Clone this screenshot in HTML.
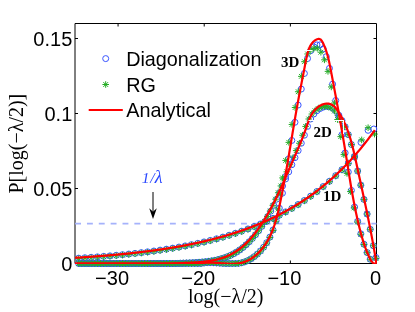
<!DOCTYPE html>
<html><head><meta charset="utf-8"><style>
html,body{margin:0;padding:0;background:#fff;width:415px;height:312px;overflow:hidden}
svg{position:absolute;left:0;top:0;display:block;will-change:transform}
</style></head><body>
<svg width="415" height="312" viewBox="0 0 415 312"><rect width="415" height="312" fill="#fff"/><path fill="none" stroke="#000" stroke-width="1" d="M75.0,23.5H376.5V263.5H75.0ZM118.07,263.5v-3M118.07,23.5v3M204.21,263.5v-3M204.21,23.5v3M290.36,263.5v-3M290.36,23.5v3M75.0,188.50h3M376.5,188.50h-3M75.0,113.50h3M376.5,113.50h-3M75.0,38.50h3M376.5,38.50h-3"/><line x1="75.1" y1="223.7" x2="376.5" y2="223.7" stroke="#a5b2fb" stroke-width="1.7" stroke-dasharray="5.9 5.95"/><g fill="none" stroke="#3a55ff" stroke-width="1"><circle cx="78.62" cy="258.16" r="3.0"/><circle cx="84.89" cy="257.76" r="3.0"/><circle cx="91.16" cy="257.33" r="3.0"/><circle cx="97.43" cy="256.86" r="3.0"/><circle cx="103.70" cy="256.37" r="3.0"/><circle cx="109.97" cy="255.85" r="3.0"/><circle cx="116.25" cy="255.28" r="3.0"/><circle cx="122.52" cy="254.68" r="3.0"/><circle cx="128.79" cy="254.04" r="3.0"/><circle cx="135.06" cy="253.36" r="3.0"/><circle cx="141.33" cy="252.63" r="3.0"/><circle cx="147.60" cy="251.84" r="3.0"/><circle cx="153.87" cy="251.01" r="3.0"/><circle cx="160.14" cy="250.12" r="3.0"/><circle cx="166.41" cy="249.17" r="3.0"/><circle cx="172.69" cy="248.15" r="3.0"/><circle cx="178.96" cy="247.06" r="3.0"/><circle cx="185.23" cy="245.90" r="3.0"/><circle cx="191.50" cy="244.66" r="3.0"/><circle cx="197.77" cy="243.34" r="3.0"/><circle cx="204.04" cy="241.92" r="3.0"/><circle cx="210.31" cy="240.41" r="3.0"/><circle cx="216.58" cy="238.80" r="3.0"/><circle cx="222.86" cy="237.08" r="3.0"/><circle cx="229.13" cy="235.24" r="3.0"/><circle cx="235.40" cy="233.27" r="3.0"/><circle cx="241.67" cy="231.17" r="3.0"/><circle cx="247.94" cy="228.93" r="3.0"/><circle cx="254.21" cy="226.53" r="3.0"/><circle cx="260.48" cy="223.98" r="3.0"/><circle cx="266.75" cy="221.24" r="3.0"/><circle cx="273.03" cy="218.33" r="3.0"/><circle cx="279.30" cy="215.21" r="3.0"/><circle cx="285.57" cy="211.88" r="3.0"/><circle cx="291.84" cy="208.32" r="3.0"/><circle cx="298.11" cy="204.52" r="3.0"/><circle cx="304.38" cy="200.47" r="3.0"/><circle cx="310.65" cy="196.13" r="3.0"/><circle cx="316.92" cy="191.50" r="3.0"/><circle cx="323.19" cy="186.56" r="3.0"/><circle cx="329.47" cy="181.28" r="3.0"/><circle cx="335.74" cy="175.64" r="3.0"/><circle cx="342.01" cy="169.61" r="3.0"/><circle cx="348.28" cy="163.18" r="3.0"/><circle cx="354.55" cy="156.31" r="3.0"/><circle cx="361.00" cy="142.40" r="3.0"/><circle cx="368.10" cy="130.30" r="3.0"/><circle cx="373.80" cy="129.00" r="3.0"/></g><path fill="none" stroke="#25ad25" stroke-width="1" d="M75.32,258.56h6.60M78.62,255.26v6.60M76.24,256.19l4.75,4.75M76.24,260.94l4.75,-4.75M81.59,258.16h6.60M84.89,254.86v6.60M82.51,255.78l4.75,4.75M82.51,260.53l4.75,-4.75M87.86,257.73h6.60M91.16,254.43v6.60M88.78,255.35l4.75,4.75M88.78,260.10l4.75,-4.75M94.13,257.26h6.60M97.43,253.96v6.60M95.06,254.89l4.75,4.75M95.06,259.64l4.75,-4.75M100.40,256.77h6.60M103.70,253.47v6.60M101.33,254.40l4.75,4.75M101.33,259.15l4.75,-4.75M106.67,256.25h6.60M109.97,252.95v6.60M107.60,253.87l4.75,4.75M107.60,258.62l4.75,-4.75M112.95,255.68h6.60M116.25,252.38v6.60M113.87,253.31l4.75,4.75M113.87,258.06l4.75,-4.75M119.22,255.08h6.60M122.52,251.78v6.60M120.14,252.71l4.75,4.75M120.14,257.46l4.75,-4.75M125.49,254.44h6.60M128.79,251.14v6.60M126.41,252.07l4.75,4.75M126.41,256.82l4.75,-4.75M131.76,253.76h6.60M135.06,250.46v6.60M132.68,251.38l4.75,4.75M132.68,256.13l4.75,-4.75M138.03,253.03h6.60M141.33,249.73v6.60M138.95,250.65l4.75,4.75M138.95,255.40l4.75,-4.75M144.30,252.24h6.60M147.60,248.94v6.60M145.23,249.87l4.75,4.75M145.23,254.62l4.75,-4.75M150.57,251.41h6.60M153.87,248.11v6.60M151.50,249.03l4.75,4.75M151.50,253.78l4.75,-4.75M156.84,250.52h6.60M160.14,247.22v6.60M157.77,248.14l4.75,4.75M157.77,252.89l4.75,-4.75M163.11,249.57h6.60M166.41,246.27v6.60M164.04,247.19l4.75,4.75M164.04,251.94l4.75,-4.75M169.39,248.55h6.60M172.69,245.25v6.60M170.31,246.17l4.75,4.75M170.31,250.92l4.75,-4.75M175.66,247.46h6.60M178.96,244.16v6.60M176.58,245.09l4.75,4.75M176.58,249.84l4.75,-4.75M181.93,246.30h6.60M185.23,243.00v6.60M182.85,243.93l4.75,4.75M182.85,248.68l4.75,-4.75M188.20,245.06h6.60M191.50,241.76v6.60M189.12,242.69l4.75,4.75M189.12,247.44l4.75,-4.75M194.47,243.74h6.60M197.77,240.44v6.60M195.39,241.36l4.75,4.75M195.39,246.11l4.75,-4.75M200.74,242.32h6.60M204.04,239.02v6.60M201.67,239.95l4.75,4.75M201.67,244.70l4.75,-4.75M207.01,240.81h6.60M210.31,237.51v6.60M207.94,238.44l4.75,4.75M207.94,243.19l4.75,-4.75M213.28,239.20h6.60M216.58,235.90v6.60M214.21,236.82l4.75,4.75M214.21,241.58l4.75,-4.75M219.56,237.48h6.60M222.86,234.18v6.60M220.48,235.10l4.75,4.75M220.48,239.85l4.75,-4.75M225.83,235.64h6.60M229.13,232.34v6.60M226.75,233.26l4.75,4.75M226.75,238.01l4.75,-4.75M232.10,233.67h6.60M235.40,230.37v6.60M233.02,231.30l4.75,4.75M233.02,236.05l4.75,-4.75M238.37,231.57h6.60M241.67,228.27v6.60M239.29,229.20l4.75,4.75M239.29,233.95l4.75,-4.75M244.64,229.33h6.60M247.94,226.03v6.60M245.56,226.95l4.75,4.75M245.56,231.71l4.75,-4.75M250.91,226.93h6.60M254.21,223.63v6.60M251.84,224.56l4.75,4.75M251.84,229.31l4.75,-4.75M257.18,224.38h6.60M260.48,221.08v6.60M258.11,222.00l4.75,4.75M258.11,226.75l4.75,-4.75M263.45,221.64h6.60M266.75,218.34v6.60M264.38,219.27l4.75,4.75M264.38,224.02l4.75,-4.75M269.73,218.73h6.60M273.03,215.43v6.60M270.65,216.35l4.75,4.75M270.65,221.10l4.75,-4.75M276.00,215.61h6.60M279.30,212.31v6.60M276.92,213.23l4.75,4.75M276.92,217.98l4.75,-4.75M282.27,212.28h6.60M285.57,208.98v6.60M283.19,209.90l4.75,4.75M283.19,214.65l4.75,-4.75M288.54,208.72h6.60M291.84,205.42v6.60M289.46,206.35l4.75,4.75M289.46,211.10l4.75,-4.75M294.81,204.92h6.60M298.11,201.62v6.60M295.73,202.55l4.75,4.75M295.73,207.30l4.75,-4.75M301.08,200.87h6.60M304.38,197.57v6.60M302.01,198.49l4.75,4.75M302.01,203.24l4.75,-4.75M307.35,196.53h6.60M310.65,193.23v6.60M308.28,194.16l4.75,4.75M308.28,198.91l4.75,-4.75M313.62,191.90h6.60M316.92,188.60v6.60M314.55,189.53l4.75,4.75M314.55,194.28l4.75,-4.75M319.89,186.96h6.60M323.19,183.66v6.60M320.82,184.58l4.75,4.75M320.82,189.34l4.75,-4.75M326.17,181.68h6.60M329.47,178.38v6.60M327.09,179.30l4.75,4.75M327.09,184.05l4.75,-4.75M332.44,176.04h6.60M335.74,172.74v6.60M333.36,173.66l4.75,4.75M333.36,178.41l4.75,-4.75M338.71,170.01h6.60M342.01,166.71v6.60M339.63,167.64l4.75,4.75M339.63,172.39l4.75,-4.75M344.98,163.58h6.60M348.28,160.28v6.60M345.90,161.20l4.75,4.75M345.90,165.96l4.75,-4.75M351.25,156.71h6.60M354.55,153.41v6.60M352.17,154.33l4.75,4.75M352.17,159.08l4.75,-4.75M358.40,139.90h6.60M361.70,136.60v6.60M359.32,137.52l4.75,4.75M359.32,142.28l4.75,-4.75M364.80,127.70h6.60M368.10,124.40v6.60M365.72,125.32l4.75,4.75M365.72,130.08l4.75,-4.75M371.20,134.10h6.60M374.50,130.80v6.60M372.12,131.72l4.75,4.75M372.12,136.48l4.75,-4.75"/><g fill="none" stroke="#3a55ff" stroke-width="1"><circle cx="79.91" cy="263.50" r="3.0"/><circle cx="83.05" cy="263.50" r="3.0"/><circle cx="86.18" cy="263.50" r="3.0"/><circle cx="89.32" cy="263.50" r="3.0"/><circle cx="92.45" cy="263.50" r="3.0"/><circle cx="95.59" cy="263.50" r="3.0"/><circle cx="98.72" cy="263.50" r="3.0"/><circle cx="101.86" cy="263.50" r="3.0"/><circle cx="104.99" cy="263.50" r="3.0"/><circle cx="108.13" cy="263.50" r="3.0"/><circle cx="111.27" cy="263.50" r="3.0"/><circle cx="114.40" cy="263.50" r="3.0"/><circle cx="117.54" cy="263.50" r="3.0"/><circle cx="120.67" cy="263.50" r="3.0"/><circle cx="123.81" cy="263.50" r="3.0"/><circle cx="126.94" cy="263.50" r="3.0"/><circle cx="130.08" cy="263.50" r="3.0"/><circle cx="133.22" cy="263.50" r="3.0"/><circle cx="136.35" cy="263.50" r="3.0"/><circle cx="139.49" cy="263.50" r="3.0"/><circle cx="142.62" cy="263.50" r="3.0"/><circle cx="145.76" cy="263.50" r="3.0"/><circle cx="148.89" cy="263.50" r="3.0"/><circle cx="152.03" cy="263.50" r="3.0"/><circle cx="155.16" cy="263.50" r="3.0"/><circle cx="158.30" cy="263.50" r="3.0"/><circle cx="161.44" cy="263.50" r="3.0"/><circle cx="164.57" cy="263.50" r="3.0"/><circle cx="167.71" cy="263.50" r="3.0"/><circle cx="170.84" cy="263.50" r="3.0"/><circle cx="173.98" cy="263.50" r="3.0"/><circle cx="177.11" cy="263.35" r="3.0"/><circle cx="180.25" cy="263.20" r="3.0"/><circle cx="183.38" cy="263.08" r="3.0"/><circle cx="186.52" cy="262.95" r="3.0"/><circle cx="189.66" cy="262.82" r="3.0"/><circle cx="192.79" cy="262.67" r="3.0"/><circle cx="195.93" cy="262.50" r="3.0"/><circle cx="199.06" cy="262.28" r="3.0"/><circle cx="202.20" cy="262.02" r="3.0"/><circle cx="205.33" cy="261.71" r="3.0"/><circle cx="208.47" cy="261.32" r="3.0"/><circle cx="211.61" cy="260.86" r="3.0"/><circle cx="214.74" cy="260.30" r="3.0"/><circle cx="217.88" cy="259.63" r="3.0"/><circle cx="221.01" cy="258.84" r="3.0"/><circle cx="224.15" cy="257.89" r="3.0"/><circle cx="227.28" cy="256.76" r="3.0"/><circle cx="230.42" cy="255.42" r="3.0"/><circle cx="233.55" cy="253.83" r="3.0"/><circle cx="236.69" cy="252.00" r="3.0"/><circle cx="239.83" cy="249.89" r="3.0"/><circle cx="242.96" cy="247.49" r="3.0"/><circle cx="246.10" cy="244.80" r="3.0"/><circle cx="249.23" cy="241.78" r="3.0"/><circle cx="252.37" cy="238.44" r="3.0"/><circle cx="255.50" cy="234.76" r="3.0"/><circle cx="258.64" cy="230.72" r="3.0"/><circle cx="261.77" cy="226.34" r="3.0"/><circle cx="264.78" cy="221.62" r="3.0"/><circle cx="267.77" cy="216.55" r="3.0"/><circle cx="270.75" cy="211.13" r="3.0"/><circle cx="273.72" cy="205.34" r="3.0"/><circle cx="276.68" cy="199.20" r="3.0"/><circle cx="279.63" cy="192.72" r="3.0"/><circle cx="282.57" cy="185.96" r="3.0"/><circle cx="285.57" cy="178.97" r="3.0"/><circle cx="288.70" cy="171.85" r="3.0"/><circle cx="291.84" cy="164.71" r="3.0"/><circle cx="294.97" cy="157.66" r="3.0"/><circle cx="298.11" cy="150.59" r="3.0"/><circle cx="301.25" cy="143.22" r="3.0"/><circle cx="304.38" cy="135.22" r="3.0"/><circle cx="307.52" cy="126.41" r="3.0"/><circle cx="310.65" cy="119.01" r="3.0"/><circle cx="313.79" cy="114.02" r="3.0"/><circle cx="316.92" cy="110.74" r="3.0"/><circle cx="320.06" cy="108.55" r="3.0"/><circle cx="323.19" cy="107.15" r="3.0"/><circle cx="326.33" cy="106.49" r="3.0"/><circle cx="329.47" cy="106.68" r="3.0"/><circle cx="332.60" cy="108.02" r="3.0"/><circle cx="335.74" cy="110.96" r="3.0"/><circle cx="338.87" cy="115.29" r="3.0"/><circle cx="342.01" cy="120.52" r="3.0"/><circle cx="345.14" cy="126.82" r="3.0"/><circle cx="348.28" cy="134.63" r="3.0"/><circle cx="351.42" cy="144.52" r="3.0"/><circle cx="354.55" cy="156.97" r="3.0"/><circle cx="357.69" cy="171.04" r="3.0"/><circle cx="360.82" cy="185.16" r="3.0"/><circle cx="363.96" cy="199.40" r="3.0"/><circle cx="367.09" cy="214.00" r="3.0"/><circle cx="370.23" cy="229.29" r="3.0"/><circle cx="373.36" cy="245.72" r="3.0"/><circle cx="376.00" cy="257.50" r="3.0"/></g><path fill="none" stroke="#25ad25" stroke-width="1" d="M76.61,263.50h6.60M79.91,260.20v6.60M77.53,261.12l4.75,4.75M77.53,265.88l4.75,-4.75M79.75,263.50h6.60M83.05,260.20v6.60M80.67,261.12l4.75,4.75M80.67,265.88l4.75,-4.75M82.88,263.50h6.60M86.18,260.20v6.60M83.81,261.12l4.75,4.75M83.81,265.88l4.75,-4.75M86.02,263.50h6.60M89.32,260.20v6.60M86.94,261.12l4.75,4.75M86.94,265.88l4.75,-4.75M89.15,263.50h6.60M92.45,260.20v6.60M90.08,261.12l4.75,4.75M90.08,265.88l4.75,-4.75M92.29,263.50h6.60M95.59,260.20v6.60M93.21,261.12l4.75,4.75M93.21,265.88l4.75,-4.75M95.42,263.50h6.60M98.72,260.20v6.60M96.35,261.12l4.75,4.75M96.35,265.88l4.75,-4.75M98.56,263.50h6.60M101.86,260.20v6.60M99.48,261.12l4.75,4.75M99.48,265.88l4.75,-4.75M101.69,263.50h6.60M104.99,260.20v6.60M102.62,261.12l4.75,4.75M102.62,265.88l4.75,-4.75M104.83,263.50h6.60M108.13,260.20v6.60M105.75,261.12l4.75,4.75M105.75,265.88l4.75,-4.75M107.97,263.50h6.60M111.27,260.20v6.60M108.89,261.12l4.75,4.75M108.89,265.88l4.75,-4.75M111.10,263.50h6.60M114.40,260.20v6.60M112.03,261.12l4.75,4.75M112.03,265.88l4.75,-4.75M114.24,263.50h6.60M117.54,260.20v6.60M115.16,261.12l4.75,4.75M115.16,265.88l4.75,-4.75M117.37,263.50h6.60M120.67,260.20v6.60M118.30,261.12l4.75,4.75M118.30,265.88l4.75,-4.75M120.51,263.50h6.60M123.81,260.20v6.60M121.43,261.12l4.75,4.75M121.43,265.88l4.75,-4.75M123.64,263.50h6.60M126.94,260.20v6.60M124.57,261.12l4.75,4.75M124.57,265.88l4.75,-4.75M126.78,263.50h6.60M130.08,260.20v6.60M127.70,261.12l4.75,4.75M127.70,265.88l4.75,-4.75M129.92,263.50h6.60M133.22,260.20v6.60M130.84,261.12l4.75,4.75M130.84,265.88l4.75,-4.75M133.05,263.50h6.60M136.35,260.20v6.60M133.97,261.12l4.75,4.75M133.97,265.88l4.75,-4.75M136.19,263.50h6.60M139.49,260.20v6.60M137.11,261.12l4.75,4.75M137.11,265.88l4.75,-4.75M139.32,263.50h6.60M142.62,260.20v6.60M140.25,261.12l4.75,4.75M140.25,265.88l4.75,-4.75M142.46,263.50h6.60M145.76,260.20v6.60M143.38,261.12l4.75,4.75M143.38,265.88l4.75,-4.75M145.59,263.50h6.60M148.89,260.20v6.60M146.52,261.12l4.75,4.75M146.52,265.88l4.75,-4.75M148.73,263.50h6.60M152.03,260.20v6.60M149.65,261.12l4.75,4.75M149.65,265.88l4.75,-4.75M151.86,263.50h6.60M155.16,260.20v6.60M152.79,261.12l4.75,4.75M152.79,265.88l4.75,-4.75M155.00,263.50h6.60M158.30,260.20v6.60M155.92,261.12l4.75,4.75M155.92,265.88l4.75,-4.75M158.14,263.50h6.60M161.44,260.20v6.60M159.06,261.12l4.75,4.75M159.06,265.88l4.75,-4.75M161.27,263.50h6.60M164.57,260.20v6.60M162.20,261.12l4.75,4.75M162.20,265.88l4.75,-4.75M164.41,263.50h6.60M167.71,260.20v6.60M165.33,261.12l4.75,4.75M165.33,265.88l4.75,-4.75M167.54,263.50h6.60M170.84,260.20v6.60M168.47,261.12l4.75,4.75M168.47,265.88l4.75,-4.75M170.68,263.50h6.60M173.98,260.20v6.60M171.60,261.12l4.75,4.75M171.60,265.88l4.75,-4.75M173.81,263.35h6.60M177.11,260.05v6.60M174.74,260.97l4.75,4.75M174.74,265.72l4.75,-4.75M176.95,263.20h6.60M180.25,259.90v6.60M177.87,260.83l4.75,4.75M177.87,265.58l4.75,-4.75M180.08,263.08h6.60M183.38,259.78v6.60M181.01,260.70l4.75,4.75M181.01,265.45l4.75,-4.75M183.22,262.95h6.60M186.52,259.65v6.60M184.14,260.57l4.75,4.75M184.14,265.33l4.75,-4.75M186.36,262.82h6.60M189.66,259.52v6.60M187.28,260.44l4.75,4.75M187.28,265.20l4.75,-4.75M189.49,262.67h6.60M192.79,259.37v6.60M190.42,260.30l4.75,4.75M190.42,265.05l4.75,-4.75M192.63,262.50h6.60M195.93,259.20v6.60M193.55,260.12l4.75,4.75M193.55,264.87l4.75,-4.75M195.76,262.28h6.60M199.06,258.98v6.60M196.69,259.91l4.75,4.75M196.69,264.66l4.75,-4.75M198.90,262.02h6.60M202.20,258.72v6.60M199.82,259.65l4.75,4.75M199.82,264.40l4.75,-4.75M202.03,261.71h6.60M205.33,258.41v6.60M202.96,259.33l4.75,4.75M202.96,264.08l4.75,-4.75M205.17,261.32h6.60M208.47,258.02v6.60M206.09,258.95l4.75,4.75M206.09,263.70l4.75,-4.75M208.31,260.86h6.60M211.61,257.56v6.60M209.23,258.48l4.75,4.75M209.23,263.24l4.75,-4.75M211.44,260.30h6.60M214.74,257.00v6.60M212.36,257.93l4.75,4.75M212.36,262.68l4.75,-4.75M214.58,259.63h6.60M217.88,256.33v6.60M215.50,257.26l4.75,4.75M215.50,262.01l4.75,-4.75M217.71,258.84h6.60M221.01,255.54v6.60M218.64,256.46l4.75,4.75M218.64,261.21l4.75,-4.75M220.85,257.89h6.60M224.15,254.59v6.60M221.77,255.51l4.75,4.75M221.77,260.27l4.75,-4.75M223.98,256.76h6.60M227.28,253.46v6.60M224.91,254.39l4.75,4.75M224.91,259.14l4.75,-4.75M227.12,255.42h6.60M230.42,252.12v6.60M228.04,253.04l4.75,4.75M228.04,257.79l4.75,-4.75M230.25,253.83h6.60M233.55,250.53v6.60M231.18,251.46l4.75,4.75M231.18,256.21l4.75,-4.75M233.39,252.00h6.60M236.69,248.70v6.60M234.31,249.62l4.75,4.75M234.31,254.37l4.75,-4.75M236.53,249.89h6.60M239.83,246.59v6.60M237.45,247.51l4.75,4.75M237.45,252.26l4.75,-4.75M239.66,247.49h6.60M242.96,244.19v6.60M240.59,245.12l4.75,4.75M240.59,249.87l4.75,-4.75M242.80,244.80h6.60M246.10,241.50v6.60M243.72,242.42l4.75,4.75M243.72,247.17l4.75,-4.75M245.93,241.78h6.60M249.23,238.48v6.60M246.86,239.41l4.75,4.75M246.86,244.16l4.75,-4.75M249.07,238.44h6.60M252.37,235.14v6.60M249.99,236.07l4.75,4.75M249.99,240.82l4.75,-4.75M252.20,234.76h6.60M255.50,231.46v6.60M253.13,232.38l4.75,4.75M253.13,237.13l4.75,-4.75M255.34,230.72h6.60M258.64,227.42v6.60M256.26,228.35l4.75,4.75M256.26,233.10l4.75,-4.75M258.47,226.34h6.60M261.77,223.04v6.60M259.40,223.97l4.75,4.75M259.40,228.72l4.75,-4.75M261.30,221.62h6.60M264.60,218.32v6.60M262.22,219.24l4.75,4.75M262.22,223.99l4.75,-4.75M264.08,216.55h6.60M267.38,213.25v6.60M265.00,214.18l4.75,4.75M265.00,218.93l4.75,-4.75M266.83,211.13h6.60M270.13,207.83v6.60M267.75,208.75l4.75,4.75M267.75,213.50l4.75,-4.75M269.55,205.34h6.60M272.85,202.04v6.60M270.48,202.97l4.75,4.75M270.48,207.72l4.75,-4.75M272.25,199.20h6.60M275.55,195.90v6.60M273.18,196.82l4.75,4.75M273.18,201.58l4.75,-4.75M274.93,192.72h6.60M278.23,189.42v6.60M275.86,190.35l4.75,4.75M275.86,195.10l4.75,-4.75M277.59,185.96h6.60M280.89,182.66v6.60M278.51,183.58l4.75,4.75M278.51,188.33l4.75,-4.75M280.37,178.97h6.60M283.67,175.67v6.60M281.30,176.59l4.75,4.75M281.30,181.35l4.75,-4.75M283.51,171.85h6.60M286.81,168.55v6.60M284.43,169.48l4.75,4.75M284.43,174.23l4.75,-4.75M286.64,164.71h6.60M289.94,161.41v6.60M287.57,162.34l4.75,4.75M287.57,167.09l4.75,-4.75M289.78,157.66h6.60M293.08,154.36v6.60M290.70,155.29l4.75,4.75M290.70,160.04l4.75,-4.75M292.91,150.59h6.60M296.21,147.29v6.60M293.84,148.22l4.75,4.75M293.84,152.97l4.75,-4.75M296.05,143.22h6.60M299.35,139.92v6.60M296.97,140.85l4.75,4.75M296.97,145.60l4.75,-4.75M299.19,135.22h6.60M302.49,131.92v6.60M300.11,132.84l4.75,4.75M300.11,137.60l4.75,-4.75M302.32,126.41h6.60M305.62,123.11v6.60M303.25,124.03l4.75,4.75M303.25,128.79l4.75,-4.75M305.46,119.01h6.60M308.76,115.71v6.60M306.38,116.64l4.75,4.75M306.38,121.39l4.75,-4.75M308.59,114.02h6.60M311.89,110.72v6.60M309.52,111.64l4.75,4.75M309.52,116.39l4.75,-4.75M311.73,110.74h6.60M315.03,107.44v6.60M312.65,108.37l4.75,4.75M312.65,113.12l4.75,-4.75M314.86,108.55h6.60M318.16,105.25v6.60M315.79,106.17l4.75,4.75M315.79,110.93l4.75,-4.75M318.00,107.15h6.60M321.30,103.85v6.60M318.92,104.77l4.75,4.75M318.92,109.53l4.75,-4.75M321.14,106.49h6.60M324.44,103.19v6.60M322.06,104.12l4.75,4.75M322.06,108.87l4.75,-4.75M324.37,106.68h6.60M327.67,103.38v6.60M325.30,104.31l4.75,4.75M325.30,109.06l4.75,-4.75M327.77,108.02h6.60M331.07,104.72v6.60M328.70,105.65l4.75,4.75M328.70,110.40l4.75,-4.75M331.17,110.96h6.60M334.47,107.66v6.60M332.10,108.58l4.75,4.75M332.10,113.33l4.75,-4.75M334.58,115.29h6.60M337.88,111.99v6.60M335.50,112.91l4.75,4.75M335.50,117.67l4.75,-4.75M337.98,120.52h6.60M341.28,117.22v6.60M338.90,118.14l4.75,4.75M338.90,122.89l4.75,-4.75M341.38,126.82h6.60M344.68,123.52v6.60M342.30,124.45l4.75,4.75M342.30,129.20l4.75,-4.75M344.78,134.63h6.60M348.08,131.33v6.60M345.70,132.25l4.75,4.75M345.70,137.00l4.75,-4.75M348.12,144.52h6.60M351.42,141.22v6.60M349.04,142.14l4.75,4.75M349.04,146.89l4.75,-4.75M351.25,156.97h6.60M354.55,153.67v6.60M352.17,154.59l4.75,4.75M352.17,159.34l4.75,-4.75M354.39,171.04h6.60M357.69,167.74v6.60M355.31,168.66l4.75,4.75M355.31,173.42l4.75,-4.75M357.52,185.16h6.60M360.82,181.86v6.60M358.45,182.79l4.75,4.75M358.45,187.54l4.75,-4.75M360.66,199.40h6.60M363.96,196.10v6.60M361.58,197.02l4.75,4.75M361.58,201.78l4.75,-4.75M363.79,214.00h6.60M367.09,210.70v6.60M364.72,211.63l4.75,4.75M364.72,216.38l4.75,-4.75M366.93,229.29h6.60M370.23,225.99v6.60M367.85,226.91l4.75,4.75M367.85,231.66l4.75,-4.75M370.06,245.72h6.60M373.36,242.42v6.60M370.99,243.34l4.75,4.75M370.99,248.09l4.75,-4.75M372.70,258.50h6.60M376.00,255.20v6.60M373.62,256.12l4.75,4.75M373.62,260.88l4.75,-4.75"/><g fill="none" stroke="#3a55ff" stroke-width="1"><circle cx="78.62" cy="263.50" r="3.0"/><circle cx="81.75" cy="263.50" r="3.0"/><circle cx="84.89" cy="263.50" r="3.0"/><circle cx="88.02" cy="263.50" r="3.0"/><circle cx="91.16" cy="263.50" r="3.0"/><circle cx="94.30" cy="263.50" r="3.0"/><circle cx="97.43" cy="263.50" r="3.0"/><circle cx="100.57" cy="263.50" r="3.0"/><circle cx="103.70" cy="263.50" r="3.0"/><circle cx="106.84" cy="263.50" r="3.0"/><circle cx="109.97" cy="263.50" r="3.0"/><circle cx="113.11" cy="263.50" r="3.0"/><circle cx="116.25" cy="263.50" r="3.0"/><circle cx="119.38" cy="263.50" r="3.0"/><circle cx="122.52" cy="263.50" r="3.0"/><circle cx="125.65" cy="263.50" r="3.0"/><circle cx="128.79" cy="263.50" r="3.0"/><circle cx="131.92" cy="263.50" r="3.0"/><circle cx="135.06" cy="263.50" r="3.0"/><circle cx="138.19" cy="263.50" r="3.0"/><circle cx="141.33" cy="263.50" r="3.0"/><circle cx="144.47" cy="263.50" r="3.0"/><circle cx="147.60" cy="263.50" r="3.0"/><circle cx="150.74" cy="263.50" r="3.0"/><circle cx="153.87" cy="263.50" r="3.0"/><circle cx="157.01" cy="263.50" r="3.0"/><circle cx="160.14" cy="263.50" r="3.0"/><circle cx="163.28" cy="263.50" r="3.0"/><circle cx="166.41" cy="263.50" r="3.0"/><circle cx="169.55" cy="263.50" r="3.0"/><circle cx="172.69" cy="263.50" r="3.0"/><circle cx="175.82" cy="263.50" r="3.0"/><circle cx="178.96" cy="263.50" r="3.0"/><circle cx="182.09" cy="263.50" r="3.0"/><circle cx="185.23" cy="263.50" r="3.0"/><circle cx="188.36" cy="263.50" r="3.0"/><circle cx="191.50" cy="263.50" r="3.0"/><circle cx="194.64" cy="263.50" r="3.0"/><circle cx="197.77" cy="263.50" r="3.0"/><circle cx="200.91" cy="263.46" r="3.0"/><circle cx="204.04" cy="262.92" r="3.0"/><circle cx="207.18" cy="262.67" r="3.0"/><circle cx="210.31" cy="262.63" r="3.0"/><circle cx="213.45" cy="262.72" r="3.0"/><circle cx="216.58" cy="262.90" r="3.0"/><circle cx="219.72" cy="263.14" r="3.0"/><circle cx="222.86" cy="263.38" r="3.0"/><circle cx="225.99" cy="263.50" r="3.0"/><circle cx="229.13" cy="263.50" r="3.0"/><circle cx="232.26" cy="263.50" r="3.0"/><circle cx="235.40" cy="263.50" r="3.0"/><circle cx="238.53" cy="263.35" r="3.0"/><circle cx="241.67" cy="262.76" r="3.0"/><circle cx="244.80" cy="261.83" r="3.0"/><circle cx="247.94" cy="260.52" r="3.0"/><circle cx="251.08" cy="258.81" r="3.0"/><circle cx="254.21" cy="256.68" r="3.0"/><circle cx="257.35" cy="254.08" r="3.0"/><circle cx="260.48" cy="250.97" r="3.0"/><circle cx="263.62" cy="247.23" r="3.0"/><circle cx="266.75" cy="242.69" r="3.0"/><circle cx="269.89" cy="237.08" r="3.0"/><circle cx="273.03" cy="229.95" r="3.0"/><circle cx="276.16" cy="220.59" r="3.0"/><circle cx="279.30" cy="208.17" r="3.0"/><circle cx="282.43" cy="193.10" r="3.0"/><circle cx="285.57" cy="176.56" r="3.0"/><circle cx="288.70" cy="158.83" r="3.0"/><circle cx="291.84" cy="140.46" r="3.0"/><circle cx="294.97" cy="122.29" r="3.0"/><circle cx="298.11" cy="105.08" r="3.0"/><circle cx="301.25" cy="89.05" r="3.0"/><circle cx="304.38" cy="73.44" r="3.0"/><circle cx="307.52" cy="58.55" r="3.0"/><circle cx="310.65" cy="50.70" r="3.0"/><circle cx="313.79" cy="46.90" r="3.0"/><circle cx="316.92" cy="44.92" r="3.0"/><circle cx="320.06" cy="44.83" r="3.0"/><circle cx="323.19" cy="48.92" r="3.0"/><circle cx="326.33" cy="56.66" r="3.0"/><circle cx="329.47" cy="68.37" r="3.0"/><circle cx="332.60" cy="84.18" r="3.0"/><circle cx="335.74" cy="100.50" r="3.0"/><circle cx="338.87" cy="117.28" r="3.0"/><circle cx="342.01" cy="134.67" r="3.0"/><circle cx="345.14" cy="152.92" r="3.0"/><circle cx="348.28" cy="171.98" r="3.0"/><circle cx="351.42" cy="190.44" r="3.0"/><circle cx="354.55" cy="207.01" r="3.0"/><circle cx="357.69" cy="221.39" r="3.0"/><circle cx="360.82" cy="233.80" r="3.0"/><circle cx="363.96" cy="244.20" r="3.0"/><circle cx="367.09" cy="252.52" r="3.0"/><circle cx="370.23" cy="259.20" r="3.0"/></g><path fill="none" stroke="#25ad25" stroke-width="1" d="M75.32,263.50h6.60M78.62,260.20v6.60M76.24,261.12l4.75,4.75M76.24,265.88l4.75,-4.75M78.45,263.50h6.60M81.75,260.20v6.60M79.38,261.12l4.75,4.75M79.38,265.88l4.75,-4.75M81.59,263.50h6.60M84.89,260.20v6.60M82.51,261.12l4.75,4.75M82.51,265.88l4.75,-4.75M84.72,263.50h6.60M88.02,260.20v6.60M85.65,261.12l4.75,4.75M85.65,265.88l4.75,-4.75M87.86,263.50h6.60M91.16,260.20v6.60M88.78,261.12l4.75,4.75M88.78,265.88l4.75,-4.75M91.00,263.50h6.60M94.30,260.20v6.60M91.92,261.12l4.75,4.75M91.92,265.88l4.75,-4.75M94.13,263.50h6.60M97.43,260.20v6.60M95.06,261.12l4.75,4.75M95.06,265.88l4.75,-4.75M97.27,263.50h6.60M100.57,260.20v6.60M98.19,261.12l4.75,4.75M98.19,265.88l4.75,-4.75M100.40,263.50h6.60M103.70,260.20v6.60M101.33,261.12l4.75,4.75M101.33,265.88l4.75,-4.75M103.54,263.50h6.60M106.84,260.20v6.60M104.46,261.12l4.75,4.75M104.46,265.88l4.75,-4.75M106.67,263.50h6.60M109.97,260.20v6.60M107.60,261.12l4.75,4.75M107.60,265.88l4.75,-4.75M109.81,263.50h6.60M113.11,260.20v6.60M110.73,261.12l4.75,4.75M110.73,265.88l4.75,-4.75M112.95,263.50h6.60M116.25,260.20v6.60M113.87,261.12l4.75,4.75M113.87,265.88l4.75,-4.75M116.08,263.50h6.60M119.38,260.20v6.60M117.00,261.12l4.75,4.75M117.00,265.88l4.75,-4.75M119.22,263.50h6.60M122.52,260.20v6.60M120.14,261.12l4.75,4.75M120.14,265.88l4.75,-4.75M122.35,263.50h6.60M125.65,260.20v6.60M123.28,261.12l4.75,4.75M123.28,265.88l4.75,-4.75M125.49,263.50h6.60M128.79,260.20v6.60M126.41,261.12l4.75,4.75M126.41,265.88l4.75,-4.75M128.62,263.50h6.60M131.92,260.20v6.60M129.55,261.12l4.75,4.75M129.55,265.88l4.75,-4.75M131.76,263.50h6.60M135.06,260.20v6.60M132.68,261.12l4.75,4.75M132.68,265.88l4.75,-4.75M134.89,263.50h6.60M138.19,260.20v6.60M135.82,261.12l4.75,4.75M135.82,265.88l4.75,-4.75M138.03,263.50h6.60M141.33,260.20v6.60M138.95,261.12l4.75,4.75M138.95,265.88l4.75,-4.75M141.17,263.50h6.60M144.47,260.20v6.60M142.09,261.12l4.75,4.75M142.09,265.88l4.75,-4.75M144.30,263.50h6.60M147.60,260.20v6.60M145.23,261.12l4.75,4.75M145.23,265.88l4.75,-4.75M147.44,263.50h6.60M150.74,260.20v6.60M148.36,261.12l4.75,4.75M148.36,265.88l4.75,-4.75M150.57,263.50h6.60M153.87,260.20v6.60M151.50,261.12l4.75,4.75M151.50,265.88l4.75,-4.75M153.71,263.50h6.60M157.01,260.20v6.60M154.63,261.12l4.75,4.75M154.63,265.88l4.75,-4.75M156.84,263.50h6.60M160.14,260.20v6.60M157.77,261.12l4.75,4.75M157.77,265.88l4.75,-4.75M159.98,263.50h6.60M163.28,260.20v6.60M160.90,261.12l4.75,4.75M160.90,265.88l4.75,-4.75M163.11,263.50h6.60M166.41,260.20v6.60M164.04,261.12l4.75,4.75M164.04,265.88l4.75,-4.75M166.25,263.50h6.60M169.55,260.20v6.60M167.17,261.12l4.75,4.75M167.17,265.88l4.75,-4.75M169.39,263.50h6.60M172.69,260.20v6.60M170.31,261.12l4.75,4.75M170.31,265.88l4.75,-4.75M172.52,263.50h6.60M175.82,260.20v6.60M173.45,261.12l4.75,4.75M173.45,265.88l4.75,-4.75M175.66,263.50h6.60M178.96,260.20v6.60M176.58,261.12l4.75,4.75M176.58,265.88l4.75,-4.75M178.79,263.50h6.60M182.09,260.20v6.60M179.72,261.12l4.75,4.75M179.72,265.88l4.75,-4.75M181.93,263.50h6.60M185.23,260.20v6.60M182.85,261.12l4.75,4.75M182.85,265.88l4.75,-4.75M185.06,263.50h6.60M188.36,260.20v6.60M185.99,261.12l4.75,4.75M185.99,265.88l4.75,-4.75M188.20,263.50h6.60M191.50,260.20v6.60M189.12,261.12l4.75,4.75M189.12,265.88l4.75,-4.75M191.34,263.50h6.60M194.64,260.20v6.60M192.26,261.12l4.75,4.75M192.26,265.88l4.75,-4.75M194.47,263.50h6.60M197.77,260.20v6.60M195.39,261.12l4.75,4.75M195.39,265.88l4.75,-4.75M197.61,263.46h6.60M200.91,260.16v6.60M198.53,261.08l4.75,4.75M198.53,265.84l4.75,-4.75M200.74,262.93h6.60M204.04,259.63v6.60M201.67,260.56l4.75,4.75M201.67,265.31l4.75,-4.75M203.88,262.69h6.60M207.18,259.39v6.60M204.80,260.31l4.75,4.75M204.80,265.06l4.75,-4.75M207.01,262.64h6.60M210.31,259.34v6.60M207.94,260.26l4.75,4.75M207.94,265.02l4.75,-4.75M210.15,262.73h6.60M213.45,259.43v6.60M211.07,260.36l4.75,4.75M211.07,265.11l4.75,-4.75M213.28,262.91h6.60M216.58,259.61v6.60M214.21,260.54l4.75,4.75M214.21,265.29l4.75,-4.75M216.42,263.14h6.60M219.72,259.84v6.60M217.34,260.77l4.75,4.75M217.34,265.52l4.75,-4.75M219.56,263.38h6.60M222.86,260.08v6.60M220.48,261.00l4.75,4.75M220.48,265.75l4.75,-4.75M222.69,263.50h6.60M225.99,260.20v6.60M223.62,261.12l4.75,4.75M223.62,265.88l4.75,-4.75M225.83,263.50h6.60M229.13,260.20v6.60M226.75,261.12l4.75,4.75M226.75,265.88l4.75,-4.75M228.96,263.50h6.60M232.26,260.20v6.60M229.89,261.12l4.75,4.75M229.89,265.88l4.75,-4.75M232.10,263.50h6.60M235.40,260.20v6.60M233.02,261.12l4.75,4.75M233.02,265.88l4.75,-4.75M235.23,263.35h6.60M238.53,260.05v6.60M236.16,260.97l4.75,4.75M236.16,265.72l4.75,-4.75M238.37,262.77h6.60M241.67,259.47v6.60M239.29,260.40l4.75,4.75M239.29,265.15l4.75,-4.75M241.50,261.86h6.60M244.80,258.56v6.60M242.43,259.48l4.75,4.75M242.43,264.23l4.75,-4.75M244.64,260.57h6.60M247.94,257.27v6.60M245.56,258.19l4.75,4.75M245.56,262.94l4.75,-4.75M247.78,258.89h6.60M251.08,255.59v6.60M248.70,256.51l4.75,4.75M248.70,261.26l4.75,-4.75M250.91,256.79h6.60M254.21,253.49v6.60M251.84,254.41l4.75,4.75M251.84,259.16l4.75,-4.75M254.05,254.23h6.60M257.35,250.93v6.60M254.97,251.85l4.75,4.75M254.97,256.61l4.75,-4.75M257.18,251.16h6.60M260.48,247.86v6.60M258.11,248.78l4.75,4.75M258.11,253.54l4.75,-4.75M260.32,247.48h6.60M263.62,244.18v6.60M261.24,245.10l4.75,4.75M261.24,249.86l4.75,-4.75M263.45,243.01h6.60M266.75,239.71v6.60M264.38,240.64l4.75,4.75M264.38,245.39l4.75,-4.75M266.59,237.49h6.60M269.89,234.19v6.60M267.51,235.11l4.75,4.75M267.51,239.87l4.75,-4.75M269.73,230.46h6.60M273.03,227.16v6.60M270.65,228.09l4.75,4.75M270.65,232.84l4.75,-4.75M272.54,221.25h6.60M275.84,217.95v6.60M273.47,218.88l4.75,4.75M273.47,223.63l4.75,-4.75M274.86,209.03h6.60M278.16,205.73v6.60M275.78,206.65l4.75,4.75M275.78,211.40l4.75,-4.75M277.00,194.18h6.60M280.30,190.88v6.60M277.92,191.80l4.75,4.75M277.92,196.56l4.75,-4.75M279.25,177.90h6.60M282.55,174.60v6.60M280.18,175.52l4.75,4.75M280.18,180.27l4.75,-4.75M282.39,160.44h6.60M285.69,157.14v6.60M283.31,158.06l4.75,4.75M283.31,162.81l4.75,-4.75M285.52,142.36h6.60M288.82,139.06v6.60M286.45,139.98l4.75,4.75M286.45,144.73l4.75,-4.75M288.66,124.47h6.60M291.96,121.17v6.60M289.58,122.09l4.75,4.75M289.58,126.84l4.75,-4.75M291.80,107.51h6.60M295.10,104.21v6.60M292.72,105.14l4.75,4.75M292.72,109.89l4.75,-4.75M294.93,91.73h6.60M298.23,88.43v6.60M295.85,89.35l4.75,4.75M295.85,94.11l4.75,-4.75M298.07,76.36h6.60M301.37,73.06v6.60M298.99,73.98l4.75,4.75M298.99,78.74l4.75,-4.75M301.20,61.70h6.60M304.50,58.40v6.60M302.13,59.33l4.75,4.75M302.13,64.08l4.75,-4.75M304.34,53.98h6.60M307.64,50.68v6.60M305.26,51.60l4.75,4.75M305.26,56.35l4.75,-4.75M307.47,50.23h6.60M310.77,46.93v6.60M308.40,47.86l4.75,4.75M308.40,52.61l4.75,-4.75M310.61,48.28h6.60M313.91,44.98v6.60M311.53,45.90l4.75,4.75M311.53,50.66l4.75,-4.75M314.03,48.19h6.60M317.33,44.89v6.60M314.95,45.82l4.75,4.75M314.95,50.57l4.75,-4.75M317.58,52.22h6.60M320.88,48.92v6.60M318.51,49.84l4.75,4.75M318.51,54.60l4.75,-4.75M321.14,59.84h6.60M324.44,56.54v6.60M322.06,57.47l4.75,4.75M322.06,62.22l4.75,-4.75M324.69,71.37h6.60M327.99,68.07v6.60M325.61,69.00l4.75,4.75M325.61,73.75l4.75,-4.75M328.01,86.94h6.60M331.31,83.64v6.60M328.93,84.56l4.75,4.75M328.93,89.32l4.75,-4.75M331.15,103.01h6.60M334.45,99.71v6.60M332.07,100.64l4.75,4.75M332.07,105.39l4.75,-4.75M334.28,119.53h6.60M337.58,116.23v6.60M335.20,117.15l4.75,4.75M335.20,121.90l4.75,-4.75M337.42,136.65h6.60M340.72,133.35v6.60M338.34,134.28l4.75,4.75M338.34,139.03l4.75,-4.75M340.55,154.62h6.60M343.85,151.32v6.60M341.48,152.24l4.75,4.75M341.48,157.00l4.75,-4.75M343.69,173.39h6.60M346.99,170.09v6.60M344.61,171.01l4.75,4.75M344.61,175.77l4.75,-4.75M347.13,191.56h6.60M350.43,188.26v6.60M348.05,189.19l4.75,4.75M348.05,193.94l4.75,-4.75M350.73,207.88h6.60M354.03,204.58v6.60M351.65,205.50l4.75,4.75M351.65,210.26l4.75,-4.75M354.27,222.04h6.60M357.57,218.74v6.60M355.20,219.66l4.75,4.75M355.20,224.41l4.75,-4.75M357.52,234.25h6.60M360.82,230.95v6.60M358.45,231.88l4.75,4.75M358.45,236.63l4.75,-4.75M360.66,244.50h6.60M363.96,241.20v6.60M361.58,242.12l4.75,4.75M361.58,246.87l4.75,-4.75M363.79,252.68h6.60M367.09,249.38v6.60M364.72,250.31l4.75,4.75M364.72,255.06l4.75,-4.75M366.93,259.27h6.60M370.23,255.97v6.60M367.85,256.89l4.75,4.75M367.85,261.64l4.75,-4.75"/><defs><clipPath id="ax"><rect x="74.5" y="23.0" width="302.5" height="241.0"/></clipPath></defs><g clip-path="url(#ax)"><path fill="none" stroke="#ff0000" stroke-width="2.2" stroke-linejoin="round" d="M75.00,257.78 L75.33,257.76 L75.67,257.74 L76.00,257.72 L76.33,257.70 L76.67,257.68 L77.00,257.66 L77.33,257.64 L77.67,257.62 L78.00,257.60 L78.33,257.58 L78.67,257.56 L79.00,257.54 L79.33,257.52 L79.67,257.50 L80.00,257.48 L80.34,257.45 L80.67,257.43 L81.00,257.41 L81.34,257.39 L81.67,257.37 L82.00,257.35 L82.34,257.33 L82.67,257.30 L83.00,257.28 L83.34,257.26 L83.67,257.24 L84.00,257.22 L84.34,257.19 L84.67,257.17 L85.00,257.15 L85.34,257.13 L85.67,257.11 L86.00,257.08 L86.34,257.06 L86.67,257.04 L87.00,257.02 L87.34,256.99 L87.67,256.97 L88.00,256.95 L88.34,256.92 L88.67,256.90 L89.01,256.88 L89.34,256.85 L89.67,256.83 L90.01,256.81 L90.34,256.78 L90.67,256.76 L91.01,256.74 L91.34,256.71 L91.67,256.69 L92.01,256.67 L92.34,256.64 L92.67,256.62 L93.01,256.59 L93.34,256.57 L93.67,256.54 L94.01,256.52 L94.34,256.50 L94.67,256.47 L95.01,256.45 L95.34,256.42 L95.67,256.40 L96.01,256.37 L96.34,256.35 L96.67,256.32 L97.01,256.30 L97.34,256.27 L97.68,256.25 L98.01,256.22 L98.34,256.20 L98.68,256.17 L99.01,256.14 L99.34,256.12 L99.68,256.09 L100.01,256.07 L100.34,256.04 L100.68,256.01 L101.01,255.99 L101.34,255.96 L101.68,255.93 L102.01,255.91 L102.34,255.88 L102.68,255.85 L103.01,255.83 L103.34,255.80 L103.68,255.77 L104.01,255.75 L104.34,255.72 L104.68,255.69 L105.01,255.66 L105.34,255.64 L105.68,255.61 L106.01,255.58 L106.34,255.55 L106.68,255.53 L107.01,255.50 L107.35,255.47 L107.68,255.44 L108.01,255.41 L108.35,255.39 L108.68,255.36 L109.01,255.33 L109.35,255.30 L109.68,255.27 L110.01,255.24 L110.35,255.21 L110.68,255.18 L111.01,255.15 L111.35,255.13 L111.68,255.10 L112.01,255.07 L112.35,255.04 L112.68,255.01 L113.01,254.98 L113.35,254.95 L113.68,254.92 L114.01,254.89 L114.35,254.86 L114.68,254.83 L115.01,254.80 L115.35,254.77 L115.68,254.74 L116.02,254.70 L116.35,254.67 L116.68,254.64 L117.02,254.61 L117.35,254.58 L117.68,254.55 L118.02,254.52 L118.35,254.49 L118.68,254.45 L119.02,254.42 L119.35,254.39 L119.68,254.36 L120.02,254.33 L120.35,254.29 L120.68,254.26 L121.02,254.23 L121.35,254.20 L121.68,254.17 L122.02,254.13 L122.35,254.10 L122.68,254.07 L123.02,254.03 L123.35,254.00 L123.68,253.97 L124.02,253.93 L124.35,253.90 L124.68,253.87 L125.02,253.83 L125.35,253.80 L125.69,253.76 L126.02,253.73 L126.35,253.70 L126.69,253.66 L127.02,253.63 L127.35,253.59 L127.69,253.56 L128.02,253.52 L128.35,253.49 L128.69,253.45 L129.02,253.42 L129.35,253.38 L129.69,253.35 L130.02,253.31 L130.35,253.27 L130.69,253.24 L131.02,253.20 L131.35,253.17 L131.69,253.13 L132.02,253.09 L132.35,253.06 L132.69,253.02 L133.02,252.98 L133.35,252.95 L133.69,252.91 L134.02,252.87 L134.36,252.84 L134.69,252.80 L135.02,252.76 L135.36,252.72 L135.69,252.69 L136.02,252.65 L136.36,252.61 L136.69,252.57 L137.02,252.53 L137.36,252.49 L137.69,252.46 L138.02,252.42 L138.36,252.38 L138.69,252.34 L139.02,252.30 L139.36,252.26 L139.69,252.22 L140.02,252.18 L140.36,252.14 L140.69,252.10 L141.02,252.06 L141.36,252.02 L141.69,251.98 L142.02,251.94 L142.36,251.90 L142.69,251.86 L143.03,251.82 L143.36,251.78 L143.69,251.74 L144.03,251.70 L144.36,251.65 L144.69,251.61 L145.03,251.57 L145.36,251.53 L145.69,251.49 L146.03,251.44 L146.36,251.40 L146.69,251.36 L147.03,251.32 L147.36,251.27 L147.69,251.23 L148.03,251.19 L148.36,251.15 L148.69,251.10 L149.03,251.06 L149.36,251.01 L149.69,250.97 L150.03,250.93 L150.36,250.88 L150.69,250.84 L151.03,250.79 L151.36,250.75 L151.69,250.70 L152.03,250.66 L152.36,250.62 L152.70,250.57 L153.03,250.52 L153.36,250.48 L153.70,250.43 L154.03,250.39 L154.36,250.34 L154.70,250.30 L155.03,250.25 L155.36,250.20 L155.70,250.16 L156.03,250.11 L156.36,250.06 L156.70,250.01 L157.03,249.97 L157.36,249.92 L157.70,249.87 L158.03,249.82 L158.36,249.78 L158.70,249.73 L159.03,249.68 L159.36,249.63 L159.70,249.58 L160.03,249.53 L160.36,249.48 L160.70,249.44 L161.03,249.39 L161.37,249.34 L161.70,249.29 L162.03,249.24 L162.37,249.19 L162.70,249.14 L163.03,249.09 L163.37,249.04 L163.70,248.99 L164.03,248.93 L164.37,248.88 L164.70,248.83 L165.03,248.78 L165.37,248.73 L165.70,248.68 L166.03,248.62 L166.37,248.57 L166.70,248.52 L167.03,248.47 L167.37,248.41 L167.70,248.36 L168.03,248.31 L168.37,248.26 L168.70,248.20 L169.03,248.15 L169.37,248.09 L169.70,248.04 L170.04,247.99 L170.37,247.93 L170.70,247.88 L171.04,247.82 L171.37,247.77 L171.70,247.71 L172.04,247.66 L172.37,247.60 L172.70,247.55 L173.04,247.49 L173.37,247.43 L173.70,247.38 L174.04,247.32 L174.37,247.26 L174.70,247.21 L175.04,247.15 L175.37,247.09 L175.70,247.03 L176.04,246.98 L176.37,246.92 L176.70,246.86 L177.04,246.80 L177.37,246.74 L177.70,246.68 L178.04,246.63 L178.37,246.57 L178.70,246.51 L179.04,246.45 L179.37,246.39 L179.71,246.33 L180.04,246.27 L180.37,246.21 L180.71,246.15 L181.04,246.08 L181.37,246.02 L181.71,245.96 L182.04,245.90 L182.37,245.84 L182.71,245.78 L183.04,245.71 L183.37,245.65 L183.71,245.59 L184.04,245.53 L184.37,245.46 L184.71,245.40 L185.04,245.34 L185.37,245.27 L185.71,245.21 L186.04,245.15 L186.37,245.08 L186.71,245.02 L187.04,244.95 L187.37,244.89 L187.71,244.82 L188.04,244.76 L188.38,244.69 L188.71,244.62 L189.04,244.56 L189.38,244.49 L189.71,244.42 L190.04,244.36 L190.38,244.29 L190.71,244.22 L191.04,244.15 L191.38,244.09 L191.71,244.02 L192.04,243.95 L192.38,243.88 L192.71,243.81 L193.04,243.74 L193.38,243.67 L193.71,243.61 L194.04,243.54 L194.38,243.47 L194.71,243.39 L195.04,243.32 L195.38,243.25 L195.71,243.18 L196.04,243.11 L196.38,243.04 L196.71,242.97 L197.04,242.90 L197.38,242.82 L197.71,242.75 L198.05,242.68 L198.38,242.61 L198.71,242.53 L199.05,242.46 L199.38,242.38 L199.71,242.31 L200.05,242.24 L200.38,242.16 L200.71,242.09 L201.05,242.01 L201.38,241.94 L201.71,241.86 L202.05,241.78 L202.38,241.71 L202.71,241.63 L203.05,241.55 L203.38,241.48 L203.71,241.40 L204.05,241.32 L204.38,241.25 L204.71,241.17 L205.05,241.09 L205.38,241.01 L205.71,240.93 L206.05,240.85 L206.38,240.77 L206.72,240.69 L207.05,240.61 L207.38,240.53 L207.72,240.45 L208.05,240.37 L208.38,240.29 L208.72,240.21 L209.05,240.13 L209.38,240.04 L209.72,239.96 L210.05,239.88 L210.38,239.80 L210.72,239.71 L211.05,239.63 L211.38,239.55 L211.72,239.46 L212.05,239.38 L212.38,239.29 L212.72,239.21 L213.05,239.12 L213.38,239.04 L213.72,238.95 L214.05,238.87 L214.38,238.78 L214.72,238.69 L215.05,238.60 L215.39,238.52 L215.72,238.43 L216.05,238.34 L216.39,238.25 L216.72,238.17 L217.05,238.08 L217.39,237.99 L217.72,237.90 L218.05,237.81 L218.39,237.72 L218.72,237.63 L219.05,237.54 L219.39,237.44 L219.72,237.35 L220.05,237.26 L220.39,237.17 L220.72,237.08 L221.05,236.98 L221.39,236.89 L221.72,236.80 L222.05,236.70 L222.39,236.61 L222.72,236.52 L223.05,236.42 L223.39,236.33 L223.72,236.23 L224.05,236.14 L224.39,236.04 L224.72,235.94 L225.06,235.85 L225.39,235.75 L225.72,235.65 L226.06,235.55 L226.39,235.46 L226.72,235.36 L227.06,235.26 L227.39,235.16 L227.72,235.06 L228.06,234.96 L228.39,234.86 L228.72,234.76 L229.06,234.66 L229.39,234.56 L229.72,234.46 L230.06,234.35 L230.39,234.25 L230.72,234.15 L231.06,234.05 L231.39,233.94 L231.72,233.84 L232.06,233.73 L232.39,233.63 L232.72,233.53 L233.06,233.42 L233.39,233.31 L233.73,233.21 L234.06,233.10 L234.39,233.00 L234.73,232.89 L235.06,232.78 L235.39,232.67 L235.73,232.57 L236.06,232.46 L236.39,232.35 L236.73,232.24 L237.06,232.13 L237.39,232.02 L237.73,231.91 L238.06,231.80 L238.39,231.69 L238.73,231.57 L239.06,231.46 L239.39,231.35 L239.73,231.24 L240.06,231.12 L240.39,231.01 L240.73,230.90 L241.06,230.78 L241.39,230.67 L241.73,230.55 L242.06,230.44 L242.40,230.32 L242.73,230.20 L243.06,230.09 L243.40,229.97 L243.73,229.85 L244.06,229.73 L244.40,229.62 L244.73,229.50 L245.06,229.38 L245.40,229.26 L245.73,229.14 L246.06,229.02 L246.40,228.90 L246.73,228.77 L247.06,228.65 L247.40,228.53 L247.73,228.41 L248.06,228.28 L248.40,228.16 L248.73,228.04 L249.06,227.91 L249.40,227.79 L249.73,227.66 L250.06,227.54 L250.40,227.41 L250.73,227.28 L251.06,227.16 L251.40,227.03 L251.73,226.90 L252.07,226.77 L252.40,226.64 L252.73,226.51 L253.07,226.38 L253.40,226.25 L253.73,226.12 L254.07,225.99 L254.40,225.86 L254.73,225.73 L255.07,225.60 L255.40,225.46 L255.73,225.33 L256.07,225.20 L256.40,225.06 L256.73,224.93 L257.07,224.79 L257.40,224.65 L257.73,224.52 L258.07,224.38 L258.40,224.24 L258.73,224.11 L259.07,223.97 L259.40,223.83 L259.73,223.69 L260.07,223.55 L260.40,223.41 L260.74,223.27 L261.07,223.13 L261.40,222.99 L261.74,222.85 L262.07,222.70 L262.40,222.56 L262.74,222.42 L263.07,222.27 L263.40,222.13 L263.74,221.98 L264.07,221.84 L264.40,221.69 L264.74,221.54 L265.07,221.40 L265.40,221.25 L265.74,221.10 L266.07,220.95 L266.40,220.80 L266.74,220.65 L267.07,220.50 L267.40,220.35 L267.74,220.20 L268.07,220.05 L268.40,219.89 L268.74,219.74 L269.07,219.59 L269.40,219.43 L269.74,219.28 L270.07,219.12 L270.41,218.97 L270.74,218.81 L271.07,218.66 L271.41,218.50 L271.74,218.34 L272.07,218.18 L272.41,218.02 L272.74,217.86 L273.07,217.70 L273.41,217.54 L273.74,217.38 L274.07,217.22 L274.41,217.06 L274.74,216.89 L275.07,216.73 L275.41,216.57 L275.74,216.40 L276.07,216.24 L276.41,216.07 L276.74,215.90 L277.07,215.74 L277.41,215.57 L277.74,215.40 L278.07,215.23 L278.41,215.06 L278.74,214.89 L279.08,214.72 L279.41,214.55 L279.74,214.38 L280.08,214.21 L280.41,214.03 L280.74,213.86 L281.08,213.69 L281.41,213.51 L281.74,213.34 L282.08,213.16 L282.41,212.98 L282.74,212.81 L283.08,212.63 L283.41,212.45 L283.74,212.27 L284.08,212.09 L284.41,211.91 L284.74,211.73 L285.08,211.55 L285.41,211.36 L285.74,211.18 L286.08,211.00 L286.41,210.81 L286.74,210.63 L287.08,210.44 L287.41,210.26 L287.75,210.07 L288.08,209.88 L288.41,209.69 L288.75,209.51 L289.08,209.32 L289.41,209.13 L289.75,208.94 L290.08,208.74 L290.41,208.55 L290.75,208.36 L291.08,208.17 L291.41,207.97 L291.75,207.78 L292.08,207.58 L292.41,207.38 L292.75,207.19 L293.08,206.99 L293.41,206.79 L293.75,206.59 L294.08,206.39 L294.41,206.19 L294.75,205.99 L295.08,205.79 L295.41,205.59 L295.75,205.38 L296.08,205.18 L296.41,204.97 L296.75,204.77 L297.08,204.56 L297.42,204.36 L297.75,204.15 L298.08,203.94 L298.42,203.73 L298.75,203.52 L299.08,203.31 L299.42,203.10 L299.75,202.89 L300.08,202.68 L300.42,202.46 L300.75,202.25 L301.08,202.03 L301.42,201.82 L301.75,201.60 L302.08,201.38 L302.42,201.17 L302.75,200.95 L303.08,200.73 L303.42,200.51 L303.75,200.29 L304.08,200.06 L304.42,199.84 L304.75,199.62 L305.08,199.39 L305.42,199.17 L305.75,198.94 L306.09,198.72 L306.42,198.49 L306.75,198.26 L307.09,198.03 L307.42,197.80 L307.75,197.57 L308.09,197.34 L308.42,197.11 L308.75,196.88 L309.09,196.64 L309.42,196.41 L309.75,196.17 L310.09,195.94 L310.42,195.70 L310.75,195.46 L311.09,195.22 L311.42,194.98 L311.75,194.74 L312.09,194.50 L312.42,194.26 L312.75,194.01 L313.09,193.77 L313.42,193.53 L313.75,193.28 L314.09,193.03 L314.42,192.79 L314.76,192.54 L315.09,192.29 L315.42,192.04 L315.76,191.79 L316.09,191.54 L316.42,191.28 L316.76,191.03 L317.09,190.78 L317.42,190.52 L317.76,190.27 L318.09,190.01 L318.42,189.75 L318.76,189.49 L319.09,189.23 L319.42,188.97 L319.76,188.71 L320.09,188.45 L320.42,188.18 L320.76,187.92 L321.09,187.65 L321.42,187.39 L321.76,187.12 L322.09,186.85 L322.42,186.58 L322.76,186.31 L323.09,186.04 L323.42,185.77 L323.76,185.50 L324.09,185.23 L324.43,184.95 L324.76,184.67 L325.09,184.40 L325.43,184.12 L325.76,183.84 L326.09,183.56 L326.43,183.28 L326.76,183.00 L327.09,182.72 L327.43,182.43 L327.76,182.15 L328.09,181.86 L328.43,181.58 L328.76,181.29 L329.09,181.00 L329.43,180.71 L329.76,180.42 L330.09,180.13 L330.43,179.84 L330.76,179.54 L331.09,179.25 L331.43,178.95 L331.76,178.66 L332.09,178.36 L332.43,178.06 L332.76,177.76 L333.10,177.46 L333.43,177.16 L333.76,176.86 L334.10,176.55 L334.43,176.25 L334.76,175.94 L335.10,175.63 L335.43,175.32 L335.76,175.01 L336.10,174.70 L336.43,174.39 L336.76,174.08 L337.10,173.77 L337.43,173.45 L337.76,173.14 L338.10,172.82 L338.43,172.50 L338.76,172.18 L339.10,171.86 L339.43,171.54 L339.76,171.22 L340.10,170.89 L340.43,170.57 L340.76,170.24 L341.10,169.91 L341.43,169.58 L341.76,169.26 L342.10,168.92 L342.43,168.59 L342.77,168.26 L343.10,167.93 L343.43,167.59 L343.77,167.25 L344.10,166.92 L344.43,166.58 L344.77,166.24 L345.10,165.90 L345.43,165.55 L345.77,165.21 L346.10,164.86 L346.43,164.52 L346.77,164.17 L347.10,163.82 L347.43,163.47 L347.77,163.12 L348.10,162.77 L348.43,162.42 L348.77,162.06 L349.10,161.70 L349.43,161.35 L349.77,160.99 L350.10,160.63 L350.43,160.27 L350.77,159.91 L351.10,159.54 L351.44,159.18 L351.77,158.81 L352.10,158.44 L352.44,158.08 L352.77,157.71 L353.10,157.33 L353.44,156.96 L353.77,156.59 L354.10,156.21 L354.44,155.84 L354.77,155.46 L355.10,155.08 L355.44,154.70 L355.77,154.32 L356.10,153.93 L356.44,153.55 L356.77,153.16 L357.10,152.78 L357.44,152.39 L357.77,152.00 L358.10,151.61 L358.44,151.21 L358.77,150.82 L359.10,150.42 L359.44,150.03 L359.77,149.63 L360.11,149.23 L360.44,148.83 L360.77,148.43 L361.11,148.02 L361.44,147.62 L361.77,147.21 L362.11,146.80 L362.44,146.39 L362.77,145.98 L363.11,145.57 L363.44,145.15 L363.77,144.74 L364.11,144.32 L364.44,143.90 L364.77,143.48 L365.11,143.06 L365.44,142.64 L365.77,142.22 L366.11,141.79 L366.44,141.36 L366.77,140.94 L367.11,140.51 L367.44,140.07 L367.77,139.64 L368.11,139.21 L368.44,138.77 L368.77,138.33 L369.11,137.89 L369.44,137.45 L369.78,137.01 L370.11,136.57 L370.44,136.12 L370.78,135.67 L371.11,135.22 L371.44,134.77 L371.78,134.32 L372.11,133.87 L372.44,133.41 L372.78,132.96 L373.11,132.50 L373.44,132.04 L373.78,131.58 L374.11,131.12 L374.44,130.65 L374.78,130.18"/><path fill="none" stroke="#ff0000" stroke-width="2.2" stroke-linejoin="round" d="M75.00,263.50 L170.55,263.68 L171.17,263.63 L171.80,263.58 L172.43,263.54 L173.06,263.50 L173.70,263.46 L174.34,263.43 L174.99,263.39 L175.64,263.35 L176.30,263.32 L176.96,263.29 L177.63,263.26 L178.29,263.23 L178.96,263.20 L179.64,263.17 L180.32,263.14 L181.00,263.11 L181.68,263.08 L182.37,263.06 L183.06,263.03 L183.76,263.00 L184.45,262.97 L185.15,262.94 L185.85,262.92 L186.55,262.89 L187.26,262.86 L187.97,262.83 L188.68,262.79 L189.39,262.76 L190.10,262.73 L190.81,262.69 L191.53,262.65 L192.25,262.62 L192.97,262.58 L193.68,262.53 L194.41,262.49 L195.13,262.45 L195.85,262.40 L196.57,262.35 L197.29,262.30 L198.02,262.24 L198.74,262.18 L199.47,262.12 L200.19,262.06 L200.91,262.00 L201.64,261.93 L202.36,261.86 L203.09,261.78 L203.81,261.70 L204.53,261.62 L205.25,261.53 L205.97,261.44 L206.69,261.35 L207.41,261.25 L208.13,261.15 L208.84,261.04 L209.56,260.93 L210.27,260.82 L210.98,260.70 L211.69,260.57 L212.39,260.45 L213.10,260.31 L213.80,260.17 L214.50,260.03 L215.20,259.88 L215.89,259.72 L216.59,259.56 L217.28,259.40 L217.96,259.22 L218.65,259.05 L219.33,258.86 L220.01,258.67 L220.68,258.47 L221.35,258.27 L222.02,258.06 L222.68,257.85 L223.34,257.62 L223.99,257.39 L224.65,257.16 L225.29,256.91 L225.94,256.66 L226.57,256.40 L227.21,256.14 L227.84,255.86 L228.46,255.58 L229.08,255.29 L229.70,255.00 L230.31,254.69 L230.91,254.38 L231.51,254.07 L232.11,253.74 L232.70,253.41 L233.29,253.07 L233.88,252.73 L234.46,252.38 L235.03,252.02 L235.60,251.65 L236.17,251.28 L236.73,250.91 L237.29,250.52 L237.85,250.13 L238.40,249.74 L238.94,249.34 L239.48,248.93 L240.02,248.52 L240.56,248.10 L241.09,247.67 L241.61,247.24 L242.14,246.81 L242.66,246.37 L243.17,245.92 L243.68,245.47 L244.19,245.02 L244.70,244.56 L245.20,244.09 L245.69,243.62 L246.19,243.14 L246.68,242.66 L247.16,242.18 L247.64,241.69 L248.12,241.20 L248.60,240.70 L249.07,240.20 L249.54,239.69 L250.01,239.18 L250.47,238.67 L250.93,238.15 L251.39,237.63 L251.84,237.10 L252.29,236.57 L252.74,236.04 L253.18,235.50 L253.62,234.96 L254.06,234.42 L254.49,233.88 L254.92,233.33 L255.35,232.78 L255.78,232.22 L256.20,231.66 L256.62,231.10 L257.04,230.54 L257.46,229.97 L257.87,229.41 L258.28,228.84 L258.68,228.26 L259.09,227.69 L259.49,227.11 L259.89,226.53 L260.29,225.95 L260.68,225.37 L261.07,224.78 L261.46,224.20 L261.85,223.61 L262.23,223.02 L262.61,222.43 L262.99,221.84 L263.37,221.24 L263.75,220.65 L264.12,220.05 L264.49,219.45 L264.86,218.85 L265.23,218.25 L265.59,217.65 L265.95,217.04 L266.32,216.44 L266.67,215.83 L267.03,215.22 L267.38,214.61 L267.74,214.00 L268.09,213.39 L268.44,212.78 L268.78,212.16 L269.13,211.55 L269.47,210.93 L269.81,210.31 L270.15,209.69 L270.49,209.07 L270.82,208.45 L271.16,207.83 L271.49,207.21 L271.82,206.59 L272.15,205.96 L272.48,205.34 L272.80,204.71 L273.12,204.08 L273.45,203.46 L273.77,202.83 L274.09,202.20 L274.40,201.57 L274.72,200.94 L275.04,200.31 L275.35,199.67 L275.66,199.04 L275.97,198.41 L276.28,197.77 L276.59,197.14 L276.90,196.50 L277.20,195.87 L277.51,195.23 L277.81,194.60 L278.11,193.96 L278.41,193.32 L278.71,192.68 L279.01,192.05 L279.31,191.41 L279.60,190.77 L279.90,190.13 L280.19,189.49 L280.48,188.85 L280.77,188.21 L281.07,187.57 L281.36,186.93 L281.64,186.29 L281.93,185.65 L282.22,185.01 L282.51,184.37 L282.79,183.73 L283.08,183.09 L283.36,182.45 L283.64,181.81 L283.93,181.17 L284.21,180.53 L284.49,179.89 L284.77,179.25 L285.05,178.61 L285.33,177.97 L285.61,177.33 L285.89,176.69 L286.16,176.05 L286.44,175.41 L286.72,174.77 L286.99,174.13 L287.27,173.50 L287.55,172.86 L287.82,172.22 L288.09,171.58 L288.37,170.95 L288.64,170.31 L288.92,169.68 L289.19,169.04 L289.46,168.41 L289.74,167.78 L290.01,167.14 L290.28,166.51 L290.55,165.88 L290.83,165.25 L291.10,164.62 L291.37,163.99 L291.64,163.36 L291.91,162.73 L292.19,162.10 L292.46,161.48 L292.73,160.85 L293.00,160.23 L293.27,159.60 L293.55,158.98 L293.82,158.36 L294.09,157.74 L294.36,157.12 L294.64,156.49 L294.91,155.87 L295.18,155.25 L295.45,154.63 L295.72,154.01 L295.99,153.39 L296.27,152.77 L296.54,152.15 L296.81,151.53 L297.08,150.91 L297.35,150.29 L297.62,149.66 L297.89,149.04 L298.16,148.41 L298.42,147.79 L298.69,147.16 L298.96,146.53 L299.23,145.90 L299.49,145.27 L299.76,144.64 L300.02,144.00 L300.29,143.36 L300.55,142.73 L300.81,142.09 L301.07,141.44 L301.34,140.80 L301.60,140.15 L301.85,139.50 L302.11,138.85 L302.37,138.19 L302.63,137.53 L302.88,136.87 L303.14,136.21 L303.39,135.54 L303.64,134.87 L303.89,134.20 L304.14,133.52 L304.39,132.84 L304.64,132.16 L304.88,131.47 L305.13,130.78 L305.37,130.08 L305.61,129.39 L305.86,128.68 L306.10,127.98 L306.34,127.27 L306.58,126.56 L306.83,125.85 L307.07,125.15 L307.32,124.44 L307.58,123.73 L307.83,123.02 L308.09,122.32 L308.36,121.62 L308.63,120.93 L308.91,120.23 L309.19,119.55 L309.48,118.86 L309.78,118.19 L310.09,117.52 L310.41,116.86 L310.73,116.21 L311.07,115.56 L311.41,114.93 L311.77,114.30 L312.14,113.69 L312.52,113.08 L312.91,112.49 L313.32,111.91 L313.74,111.34 L314.17,110.79 L314.62,110.25 L315.08,109.73 L315.56,109.22 L316.06,108.72 L316.57,108.25 L317.10,107.79 L317.64,107.35 L318.19,106.93 L318.75,106.53 L319.32,106.16 L319.90,105.80 L320.49,105.47 L321.08,105.16 L321.68,104.88 L322.29,104.62 L322.90,104.39 L323.51,104.18 L324.12,104.00 L324.74,103.86 L325.35,103.74 L325.96,103.65 L326.57,103.60 L327.17,103.57 L327.77,103.58 L328.37,103.63 L328.96,103.71 L329.54,103.82 L330.11,103.97 L330.67,104.16 L331.22,104.39 L331.76,104.66 L332.28,104.96 L332.80,105.31 L333.30,105.69 L333.79,106.10 L334.26,106.55 L334.73,107.02 L335.18,107.51 L335.63,108.03 L336.07,108.57 L336.50,109.12 L336.91,109.69 L337.33,110.26 L337.73,110.85 L338.13,111.44 L338.52,112.03 L338.91,112.63 L339.29,113.23 L339.66,113.83 L340.03,114.43 L340.39,115.04 L340.75,115.64 L341.10,116.25 L341.44,116.87 L341.78,117.48 L342.12,118.10 L342.45,118.72 L342.77,119.34 L343.09,119.97 L343.40,120.60 L343.71,121.23 L344.02,121.86 L344.31,122.49 L344.61,123.13 L344.90,123.76 L345.18,124.40 L345.46,125.05 L345.74,125.69 L346.01,126.34 L346.28,126.98 L346.54,127.63 L346.80,128.28 L347.05,128.93 L347.30,129.59 L347.55,130.24 L347.79,130.90 L348.03,131.56 L348.26,132.22 L348.50,132.88 L348.72,133.55 L348.95,134.21 L349.17,134.88 L349.39,135.55 L349.60,136.21 L349.81,136.88 L350.02,137.56 L350.23,138.23 L350.43,138.90 L350.63,139.58 L350.83,140.25 L351.02,140.93 L351.21,141.61 L351.40,142.28 L351.59,142.96 L351.77,143.64 L351.95,144.33 L352.13,145.01 L352.31,145.69 L352.49,146.37 L352.66,147.06 L352.83,147.74 L353.00,148.43 L353.17,149.12 L353.34,149.80 L353.50,150.49 L353.66,151.18 L353.83,151.86 L353.99,152.55 L354.15,153.24 L354.30,153.93 L354.46,154.62 L354.62,155.31 L354.77,156.00 L354.93,156.69 L355.08,157.38 L355.23,158.07 L355.38,158.76 L355.53,159.45 L355.69,160.14 L355.84,160.83 L355.99,161.52 L356.14,162.21 L356.28,162.89 L356.43,163.58 L356.58,164.27 L356.73,164.96 L356.88,165.65 L357.03,166.34 L357.18,167.02 L357.33,167.71 L357.48,168.40 L357.63,169.08 L357.78,169.77 L357.93,170.46 L358.08,171.14 L358.23,171.83 L358.38,172.51 L358.53,173.20 L358.68,173.88 L358.82,174.57 L358.97,175.25 L359.12,175.94 L359.27,176.62 L359.42,177.30 L359.57,177.99 L359.72,178.67 L359.87,179.35 L360.02,180.04 L360.17,180.72 L360.32,181.40 L360.46,182.08 L360.61,182.77 L360.76,183.45 L360.91,184.13 L361.06,184.81 L361.21,185.49 L361.35,186.17 L361.50,186.85 L361.65,187.54 L361.80,188.22 L361.95,188.90 L362.09,189.58 L362.24,190.26 L362.39,190.94 L362.54,191.62 L362.68,192.30 L362.83,192.98 L362.98,193.66 L363.12,194.34 L363.27,195.02 L363.42,195.70 L363.56,196.38 L363.71,197.06 L363.85,197.74 L364.00,198.42 L364.14,199.10 L364.29,199.78 L364.44,200.46 L364.58,201.14 L364.72,201.82 L364.87,202.50 L365.01,203.18 L365.16,203.86 L365.30,204.54 L365.45,205.22 L365.59,205.89 L365.73,206.57 L365.87,207.25 L366.02,207.93 L366.16,208.61 L366.30,209.29 L366.44,209.97 L366.59,210.65 L366.73,211.33 L366.87,212.01 L367.01,212.69 L367.15,213.37 L367.29,214.05 L367.43,214.73 L367.57,215.41 L367.71,216.09 L367.85,216.77 L367.99,217.45 L368.13,218.14 L368.27,218.82 L368.40,219.50 L368.54,220.18 L368.68,220.86 L368.82,221.54 L368.95,222.22 L369.09,222.90 L369.23,223.59 L369.36,224.27 L369.50,224.95 L369.63,225.63 L369.77,226.32 L369.90,227.00 L370.04,227.68 L370.17,228.37 L370.30,229.05 L370.44,229.73 L370.57,230.42 L370.70,231.10 L370.83,231.78 L370.97,232.47 L371.10,233.15 L371.23,233.84 L371.36,234.52 L371.49,235.21 L371.62,235.89 L371.75,236.58 L371.88,237.27 L372.00,237.95 L372.13,238.64 L372.26,239.33 L372.39,240.01 L372.51,240.70 L372.64,241.39 L372.77,242.08 L372.89,242.77 L373.02,243.46 L373.14,244.14 L373.26,244.83 L373.39,245.52 L373.51,246.21 L373.63,246.91 L373.76,247.60 L373.88,248.29 L374.00,248.98 L374.12,249.67 L374.24,250.36 L374.36,251.06 L374.48,251.75 L374.60,252.44 L374.72,253.14 L374.83,253.83 L374.95,254.53 L375.07,255.22 L375.18,255.92 L375.30,256.61 L375.41,257.31 L375.53,258.01 L375.64,258.70 L375.76,259.40 L375.87,260.10 L375.98,260.80 L376.09,261.50 L376.20,262.20 L376.32,262.90 L376.43,263.60"/><path fill="none" stroke="#ff0000" stroke-width="2.2" stroke-linejoin="round" d="M75.00,263.50 L200.48,263.56 L201.26,263.38 L202.06,263.22 L202.86,263.08 L203.68,262.96 L204.50,262.86 L205.34,262.77 L206.18,262.71 L207.03,262.66 L207.89,262.63 L208.75,262.61 L209.63,262.60 L210.51,262.61 L211.39,262.62 L212.28,262.65 L213.18,262.69 L214.08,262.73 L214.99,262.78 L215.90,262.84 L216.81,262.90 L217.73,262.97 L218.65,263.04 L219.57,263.11 L220.49,263.19 L221.41,263.26 L222.34,263.33 L223.27,263.40 L224.19,263.47 L225.12,263.54 L226.04,263.59 L226.97,263.65 L227.89,263.69 L228.81,263.73 L229.73,263.76 L230.64,263.78 L231.55,263.78 L232.46,263.78 L233.37,263.76 L234.26,263.73 L235.16,263.68 L236.05,263.62 L236.93,263.54 L237.81,263.44 L238.68,263.32 L239.54,263.18 L240.40,263.02 L241.24,262.84 L242.08,262.64 L242.91,262.41 L243.74,262.16 L244.55,261.88 L245.35,261.58 L246.15,261.26 L246.93,260.92 L247.71,260.56 L248.47,260.18 L249.23,259.78 L249.97,259.36 L250.71,258.92 L251.44,258.47 L252.15,257.99 L252.86,257.51 L253.56,257.00 L254.24,256.48 L254.92,255.95 L255.58,255.40 L256.24,254.84 L256.88,254.27 L257.52,253.69 L258.14,253.09 L258.75,252.48 L259.35,251.87 L259.94,251.24 L260.52,250.61 L261.08,249.97 L261.64,249.32 L262.18,248.66 L262.71,247.99 L263.24,247.32 L263.75,246.64 L264.25,245.95 L264.74,245.26 L265.22,244.55 L265.69,243.85 L266.15,243.13 L266.60,242.41 L267.04,241.68 L267.48,240.95 L267.90,240.21 L268.31,239.46 L268.72,238.71 L269.12,237.95 L269.50,237.19 L269.88,236.42 L270.25,235.64 L270.62,234.87 L270.97,234.08 L271.32,233.29 L271.66,232.50 L272.00,231.70 L272.32,230.90 L272.64,230.09 L272.95,229.28 L273.26,228.46 L273.56,227.64 L273.85,226.82 L274.14,225.99 L274.42,225.16 L274.69,224.32 L274.96,223.49 L275.23,222.64 L275.48,221.80 L275.74,220.95 L275.99,220.10 L276.23,219.25 L276.47,218.40 L276.70,217.54 L276.93,216.68 L277.16,215.82 L277.38,214.95 L277.60,214.09 L277.81,213.22 L278.02,212.35 L278.23,211.48 L278.43,210.61 L278.63,209.74 L278.83,208.86 L279.03,207.99 L279.22,207.11 L279.41,206.24 L279.60,205.36 L279.78,204.48 L279.97,203.61 L280.15,202.73 L280.33,201.85 L280.51,200.97 L280.69,200.10 L280.87,199.22 L281.04,198.34 L281.22,197.47 L281.39,196.59 L281.57,195.72 L281.74,194.84 L281.91,193.97 L282.08,193.09 L282.25,192.22 L282.42,191.35 L282.59,190.47 L282.76,189.60 L282.92,188.73 L283.09,187.86 L283.25,186.99 L283.42,186.11 L283.58,185.24 L283.74,184.37 L283.90,183.50 L284.06,182.63 L284.22,181.77 L284.38,180.90 L284.54,180.03 L284.70,179.16 L284.86,178.29 L285.01,177.42 L285.17,176.56 L285.33,175.69 L285.48,174.82 L285.63,173.96 L285.79,173.09 L285.94,172.22 L286.09,171.36 L286.24,170.49 L286.40,169.63 L286.55,168.76 L286.70,167.90 L286.85,167.04 L287.00,166.17 L287.14,165.31 L287.29,164.44 L287.44,163.58 L287.59,162.72 L287.74,161.86 L287.88,160.99 L288.03,160.13 L288.18,159.27 L288.32,158.41 L288.47,157.55 L288.61,156.69 L288.76,155.83 L288.90,154.96 L289.05,154.10 L289.19,153.24 L289.33,152.38 L289.48,151.52 L289.62,150.66 L289.76,149.80 L289.91,148.95 L290.05,148.09 L290.19,147.23 L290.34,146.37 L290.48,145.51 L290.62,144.65 L290.76,143.79 L290.91,142.94 L291.05,142.08 L291.19,141.22 L291.33,140.36 L291.47,139.51 L291.62,138.65 L291.76,137.79 L291.90,136.94 L292.04,136.08 L292.19,135.22 L292.33,134.37 L292.47,133.51 L292.61,132.65 L292.76,131.80 L292.90,130.94 L293.04,130.08 L293.19,129.23 L293.33,128.37 L293.47,127.52 L293.62,126.66 L293.76,125.81 L293.91,124.95 L294.05,124.10 L294.19,123.24 L294.34,122.39 L294.49,121.53 L294.63,120.68 L294.78,119.82 L294.92,118.97 L295.07,118.11 L295.22,117.26 L295.37,116.40 L295.51,115.55 L295.66,114.69 L295.81,113.84 L295.96,112.99 L296.11,112.13 L296.26,111.28 L296.41,110.42 L296.56,109.57 L296.71,108.71 L296.87,107.86 L297.02,107.01 L297.17,106.15 L297.33,105.30 L297.48,104.44 L297.64,103.59 L297.79,102.74 L297.95,101.88 L298.11,101.03 L298.27,100.17 L298.42,99.32 L298.58,98.46 L298.74,97.61 L298.90,96.76 L299.07,95.90 L299.23,95.05 L299.39,94.19 L299.55,93.33 L299.72,92.48 L299.88,91.62 L300.05,90.76 L300.21,89.91 L300.38,89.05 L300.54,88.19 L300.71,87.33 L300.88,86.47 L301.04,85.60 L301.21,84.74 L301.38,83.88 L301.55,83.01 L301.72,82.15 L301.89,81.28 L302.06,80.41 L302.23,79.54 L302.40,78.67 L302.57,77.80 L302.74,76.93 L302.91,76.05 L303.09,75.18 L303.26,74.30 L303.43,73.42 L303.60,72.54 L303.78,71.65 L303.95,70.77 L304.12,69.88 L304.30,68.99 L304.47,68.10 L304.64,67.21 L304.82,66.32 L304.99,65.42 L305.17,64.52 L305.34,63.62 L305.52,62.72 L305.69,61.81 L305.86,60.90 L306.04,59.99 L306.22,59.09 L306.40,58.18 L306.59,57.27 L306.78,56.37 L306.98,55.48 L307.19,54.59 L307.41,53.71 L307.64,52.84 L307.88,51.98 L308.14,51.13 L308.41,50.29 L308.70,49.47 L309.00,48.67 L309.33,47.88 L309.67,47.11 L310.04,46.37 L310.43,45.64 L310.84,44.93 L311.28,44.25 L311.74,43.60 L312.23,42.97 L312.75,42.37 L313.30,41.80 L313.89,41.26 L314.50,40.75 L315.15,40.28 L315.82,39.85 L316.50,39.49 L317.19,39.21 L317.89,39.02 L318.57,38.93 L319.23,38.97 L319.86,39.14 L320.46,39.45 L321.02,39.92 L321.54,40.51 L322.03,41.22 L322.49,42.00 L322.92,42.84 L323.33,43.71 L323.73,44.58 L324.10,45.45 L324.47,46.32 L324.82,47.19 L325.16,48.06 L325.48,48.93 L325.80,49.80 L326.10,50.66 L326.39,51.53 L326.66,52.39 L326.93,53.25 L327.19,54.12 L327.44,54.98 L327.68,55.84 L327.91,56.70 L328.13,57.56 L328.34,58.42 L328.55,59.27 L328.75,60.13 L328.95,60.99 L329.14,61.85 L329.33,62.70 L329.51,63.56 L329.68,64.42 L329.86,65.27 L330.03,66.13 L330.20,66.98 L330.36,67.84 L330.53,68.70 L330.69,69.55 L330.86,70.41 L331.02,71.26 L331.18,72.12 L331.35,72.98 L331.51,73.83 L331.67,74.69 L331.84,75.55 L332.00,76.41 L332.16,77.26 L332.32,78.12 L332.49,78.98 L332.65,79.84 L332.81,80.69 L332.97,81.55 L333.14,82.41 L333.30,83.27 L333.46,84.13 L333.62,84.99 L333.78,85.85 L333.94,86.71 L334.11,87.56 L334.27,88.42 L334.43,89.28 L334.59,90.14 L334.75,91.00 L334.91,91.86 L335.07,92.72 L335.23,93.58 L335.39,94.44 L335.55,95.30 L335.71,96.16 L335.87,97.02 L336.03,97.89 L336.18,98.75 L336.34,99.61 L336.50,100.47 L336.66,101.33 L336.82,102.19 L336.98,103.05 L337.13,103.91 L337.29,104.78 L337.45,105.64 L337.60,106.50 L337.76,107.36 L337.92,108.22 L338.07,109.09 L338.23,109.95 L338.38,110.81 L338.54,111.67 L338.69,112.54 L338.85,113.40 L339.00,114.26 L339.16,115.12 L339.31,115.99 L339.47,116.85 L339.62,117.71 L339.77,118.58 L339.93,119.44 L340.08,120.30 L340.23,121.17 L340.38,122.03 L340.54,122.90 L340.69,123.76 L340.84,124.62 L340.99,125.49 L341.14,126.35 L341.29,127.22 L341.44,128.08 L341.59,128.95 L341.74,129.81 L341.89,130.67 L342.04,131.54 L342.19,132.40 L342.33,133.27 L342.48,134.13 L342.63,135.00 L342.78,135.86 L342.92,136.73 L343.07,137.59 L343.22,138.46 L343.36,139.32 L343.51,140.19 L343.65,141.06 L343.80,141.92 L343.94,142.79 L344.09,143.65 L344.23,144.52 L344.37,145.38 L344.52,146.25 L344.66,147.11 L344.80,147.98 L344.94,148.85 L345.08,149.71 L345.22,150.58 L345.37,151.44 L345.51,152.31 L345.65,153.18 L345.79,154.04 L345.92,154.91 L346.06,155.78 L346.20,156.64 L346.34,157.51 L346.48,158.37 L346.62,159.24 L346.76,160.11 L346.90,160.97 L347.03,161.84 L347.17,162.71 L347.31,163.57 L347.45,164.44 L347.59,165.30 L347.72,166.17 L347.86,167.04 L348.00,167.90 L348.14,168.77 L348.28,169.63 L348.42,170.50 L348.56,171.37 L348.70,172.23 L348.84,173.10 L348.98,173.96 L349.12,174.83 L349.26,175.69 L349.40,176.56 L349.54,177.42 L349.68,178.29 L349.83,179.16 L349.97,180.02 L350.11,180.88 L350.26,181.75 L350.40,182.61 L350.55,183.48 L350.69,184.34 L350.84,185.21 L350.99,186.07 L351.13,186.94 L351.28,187.80 L351.43,188.66 L351.58,189.53 L351.73,190.39 L351.88,191.25 L352.04,192.12 L352.19,192.98 L352.35,193.84 L352.50,194.70 L352.66,195.57 L352.81,196.43 L352.97,197.29 L353.13,198.15 L353.29,199.01 L353.45,199.87 L353.62,200.73 L353.78,201.59 L353.94,202.46 L354.11,203.32 L354.28,204.18 L354.45,205.04 L354.62,205.89 L354.79,206.75 L354.96,207.61 L355.13,208.47 L355.31,209.33 L355.49,210.19 L355.66,211.05 L355.84,211.90 L356.02,212.76 L356.21,213.62 L356.39,214.47 L356.58,215.33 L356.76,216.19 L356.95,217.04 L357.14,217.90 L357.33,218.75 L357.53,219.61 L357.72,220.46 L357.92,221.32 L358.12,222.17 L358.32,223.02 L358.52,223.88 L358.73,224.73 L358.93,225.58 L359.14,226.44 L359.35,227.29 L359.56,228.14 L359.78,228.99 L359.99,229.84 L360.21,230.69 L360.43,231.54 L360.65,232.39 L360.88,233.24 L361.10,234.09 L361.33,234.93 L361.57,235.78 L361.81,236.63 L362.05,237.47 L362.29,238.31 L362.54,239.16 L362.79,240.00 L363.05,240.84 L363.31,241.68 L363.57,242.51 L363.84,243.35 L364.11,244.18 L364.39,245.01 L364.68,245.84 L364.97,246.67 L365.27,247.50 L365.57,248.33 L365.87,249.15 L366.19,249.97 L366.51,250.79 L366.84,251.60 L367.17,252.42 L367.51,253.23 L367.86,254.04 L368.21,254.85 L368.57,255.65 L368.94,256.45 L369.32,257.25 L369.71,258.05 L370.10,258.84 L370.51,259.62 L370.94,260.38 L371.40,261.10 L371.91,261.76 L372.47,262.35 L373.09,262.85 L373.79,263.25 L374.57,263.53 L375.45,263.68 L376.43,263.68"/></g><g font-family="&quot;Liberation Sans&quot;, sans-serif" font-size="20" fill="#000"><text x="72.3" y="45.50" text-anchor="end">0.15</text><text x="72.3" y="120.50" text-anchor="end">0.1</text><text x="72.3" y="195.50" text-anchor="end">0.05</text><text x="72.3" y="270.50" text-anchor="end">0</text><text x="112.07" y="285.3" text-anchor="middle">−30</text><text x="198.21" y="285.3" text-anchor="middle">−20</text><text x="284.36" y="285.3" text-anchor="middle">−10</text><text x="375.50" y="285.3" text-anchor="middle">0</text><g font-size="19.8"><text x="126.2" y="66.4">Diagonalization</text><text x="126.2" y="91.5">RG</text><text x="126.2" y="117.2">Analytical</text></g></g><g font-family="&quot;Liberation Serif&quot;, serif" font-size="20" fill="#000"><text x="188" y="302.5">log(−λ/2)</text><text transform="translate(23.4,193.6) rotate(-90)">P[log(−λ/2)]</text></g><g font-family="&quot;Liberation Serif&quot;, serif" font-size="15" font-weight="bold" fill="#000"><text x="281" y="66.6">3D</text><text x="313.6" y="136.6">2D</text><text x="323" y="200.5">1D</text></g><text x="141.7" y="183" font-family="&quot;Liberation Serif&quot;, serif" font-size="15.5" font-style="italic" fill="#2a48ff">1<tspan dx="0.8">/</tspan><tspan font-size="18" dx="0.2">λ</tspan></text><line x1="153" y1="192" x2="153" y2="212" stroke="#000" stroke-width="1"/><path d="M153,219 L149.2,208.3 L153,211.8 L156.8,208.3 Z" fill="#000"/><circle cx="105.7" cy="58.6" r="3" fill="none" stroke="#3a55ff" stroke-width="1"/><path fill="none" stroke="#25ad25" stroke-width="1" d="M102.40,84.50h6.60M105.70,81.20v6.60M103.32,82.12l4.75,4.75M103.32,86.88l4.75,-4.75"/><line x1="88.7" y1="110" x2="122.8" y2="110" stroke="#ff0000" stroke-width="2"/><path fill="none" stroke="#fff" stroke-width="1" d="M305,50.5H312.5M308.5,120.5H344M343.5,120.5V134"/></svg>
</body></html>
